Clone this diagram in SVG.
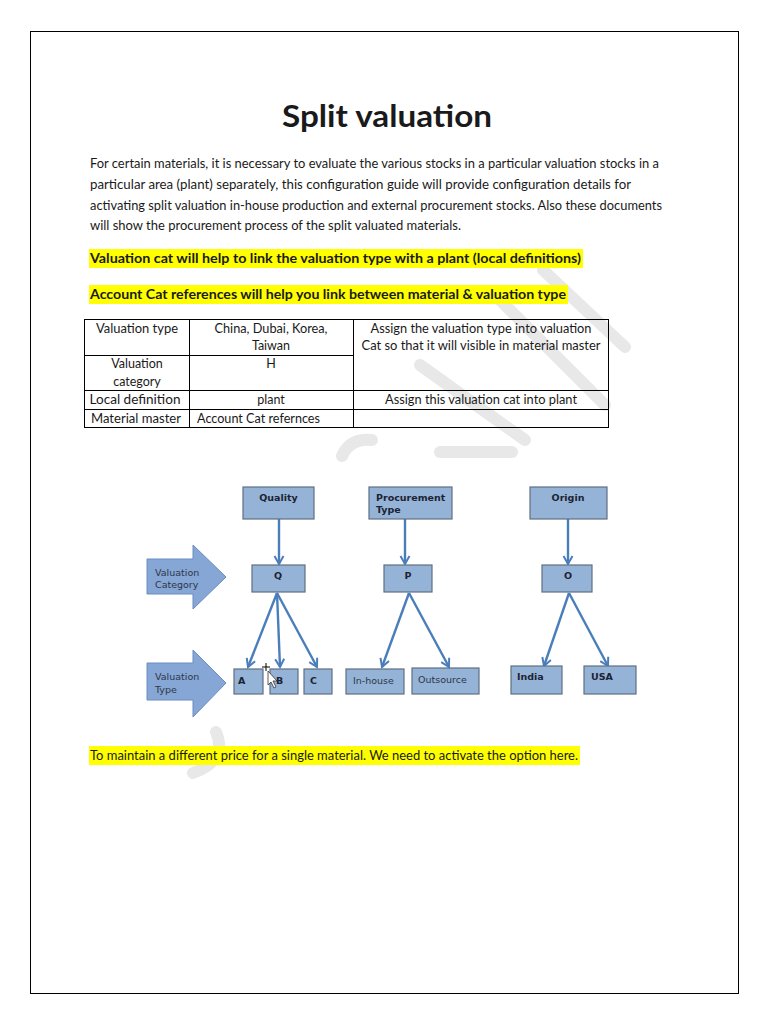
<svg xmlns="http://www.w3.org/2000/svg" width="768" height="1024" viewBox="0 0 768 1024">
<defs>
<style>
.doc{font-family:Lato,"Open Sans","Liberation Sans",sans-serif;fill:#1a1a1a}
.body{font-size:13px}
.bold{font-weight:bold}
.tbl{font-family:Lato,"Open Sans","Liberation Sans",sans-serif;font-size:12.5px;fill:#1a1a1a}
.hl{fill:#ffff00}
.grid{stroke:#000;stroke-width:1;fill:none}
.box{fill:#95b3d7;stroke:#5f6f82;stroke-width:1.2}
.barrow{fill:#86a6d6;stroke:#6a8cbf;stroke-width:1}
.lbl{font-family:"DejaVu Sans",Verdana,sans-serif;font-size:9.5px;font-weight:bold;fill:#1c2333}
.lbln{font-family:"DejaVu Sans",Verdana,sans-serif;font-size:9.5px;fill:#2c3648}
.conn{stroke:#4a7ebb;stroke-width:2.4;fill:none;marker-end:url(#arr)}
.wm{stroke:#e8e8e8;stroke-width:12;stroke-linecap:round;fill:none}
</style>
<marker id="arr" markerUnits="userSpaceOnUse" markerWidth="12" markerHeight="12" refX="9" refY="5" orient="auto" viewBox="0 0 12 10">
<path d="M1,0.5 L9,5 L1,9.5" fill="none" stroke="#4a7ebb" stroke-width="2"/>
</marker>
</defs>
<rect x="0" y="0" width="768" height="1024" fill="#ffffff"/>
<rect x="30.5" y="31.5" width="708" height="962" fill="none" stroke="#000" stroke-width="1"/>

<g id="watermark">
<path class="wm" d="M543,270 L625,347"/>
<path class="wm" d="M500,300 L605,405"/>
<path class="wm" d="M420,365 L525,440"/>
<path class="wm" d="M440,452 L512,452"/>
<path class="wm" d="M342,456 Q350,438 372,440"/>
<path class="wm" d="M216,732 Q228,760 193,773"/>
</g>

<g id="title">
<text class="doc bold" x="387" y="127" font-size="31" text-anchor="middle" textLength="210" lengthAdjust="spacingAndGlyphs">Split valuation</text>
</g>

<g id="intro" class="doc body">
<text x="90" y="168" textLength="569" lengthAdjust="spacingAndGlyphs">For certain materials, it is necessary to evaluate the various stocks in a particular valuation stocks in a</text>
<text x="90" y="189" textLength="541" lengthAdjust="spacingAndGlyphs">particular area (plant) separately, this configuration guide will provide configuration details for</text>
<text x="90" y="210" textLength="572" lengthAdjust="spacingAndGlyphs">activating split valuation in-house production and external procurement stocks. Also these documents</text>
<text x="90" y="230" textLength="371" lengthAdjust="spacingAndGlyphs">will show the procurement process of the split valuated materials.</text>
</g>

<g id="highlight1">
<rect class="hl" x="89" y="249" width="494" height="19"/>
<text class="doc body bold" x="90" y="263" textLength="491" lengthAdjust="spacingAndGlyphs">Valuation cat will help to link the valuation type with a plant (local definitions)</text>
</g>
<g id="highlight2">
<rect class="hl" x="89" y="285" width="479" height="19"/>
<text class="doc body bold" x="90" y="299" textLength="476" lengthAdjust="spacingAndGlyphs">Account Cat references will help you link between material &amp; valuation type</text>
</g>

<g id="table">
<rect class="grid" x="84.5" y="319.5" width="524" height="108"/>
<line class="grid" x1="189.5" y1="319.5" x2="189.5" y2="427.5"/>
<line class="grid" x1="353.5" y1="319.5" x2="353.5" y2="427.5"/>
<line class="grid" x1="84.5" y1="355.5" x2="353.5" y2="355.5"/>
<line class="grid" x1="84.5" y1="390.5" x2="608.5" y2="390.5"/>
<line class="grid" x1="84.5" y1="409.5" x2="608.5" y2="409.5"/>
<g class="tbl" text-anchor="middle" fill="#1a1a1a">
<text x="137" y="333" textLength="82" lengthAdjust="spacingAndGlyphs">Valuation type</text>
<text x="271" y="333" textLength="113" lengthAdjust="spacingAndGlyphs">China, Dubai, Korea,</text>
<text x="271" y="350">Taiwan</text>
<text x="481" y="333" textLength="221" lengthAdjust="spacingAndGlyphs">Assign the valuation type into valuation</text>
<text x="481" y="350" textLength="239" lengthAdjust="spacingAndGlyphs">Cat so that it will visible in material master</text>
<text x="137" y="368">Valuation</text>
<text x="137" y="386">category</text>
<text x="271" y="368" fill="#1a1a1a">H</text>
<text x="135" y="404" textLength="91" lengthAdjust="spacingAndGlyphs">Local definition</text>
<text x="271" y="404">plant</text>
<text x="481" y="404" textLength="192" lengthAdjust="spacingAndGlyphs">Assign this valuation cat into plant</text>
<text x="136" y="423" textLength="90" lengthAdjust="spacingAndGlyphs">Material master</text>
</g>
<text class="tbl" x="197" y="423" textLength="123" lengthAdjust="spacingAndGlyphs">Account Cat refernces</text>
</g>

<g id="connectors">
<line class="conn" x1="279" y1="519" x2="279" y2="564"/>
<line class="conn" x1="277" y1="593" x2="248" y2="667"/>
<line class="conn" x1="277" y1="593" x2="280" y2="667"/>
<line class="conn" x1="277" y1="593" x2="317" y2="667"/>
<line class="conn" x1="405" y1="519" x2="405" y2="564"/>
<line class="conn" x1="409" y1="593" x2="382" y2="667"/>
<line class="conn" x1="409" y1="593" x2="449" y2="667"/>
<line class="conn" x1="568" y1="519" x2="568" y2="564"/>
<line class="conn" x1="569" y1="593" x2="544" y2="666"/>
<line class="conn" x1="569" y1="593" x2="608" y2="666"/>
</g>

<g id="arrow-valuation-category">
<polygon class="barrow" points="147,559 193,559 193,545 226,577 193,609 193,594 147,594"/>
<text class="lbln" x="155" y="576">Valuation</text>
<text class="lbln" x="155" y="588">Category</text>
</g>
<g id="arrow-valuation-type">
<polygon class="barrow" points="147,663 193,663 193,650 226,683 193,717 193,700 147,700"/>
<text class="lbln" x="155" y="680">Valuation</text>
<text class="lbln" x="155" y="693">Type</text>
</g>

<g id="node-quality">
<rect class="box" x="243" y="487" width="71" height="32"/>
<text class="lbl" x="278.5" y="501" text-anchor="middle">Quality</text>
</g>
<g id="node-procurement-type">
<rect class="box" x="369" y="487" width="83" height="32"/>
<text class="lbl" x="376" y="501">Procurement</text>
<text class="lbl" x="376" y="513">Type</text>
</g>
<g id="node-origin">
<rect class="box" x="530" y="487" width="77" height="32"/>
<text class="lbl" x="568" y="501" text-anchor="middle">Origin</text>
</g>
<g id="node-q">
<rect class="box" x="252" y="565" width="53" height="27"/>
<text class="lbl" x="278" y="579" text-anchor="middle">Q</text>
</g>
<g id="node-p">
<rect class="box" x="384" y="565" width="48" height="27"/>
<text class="lbl" x="408" y="579" text-anchor="middle">P</text>
</g>
<g id="node-o">
<rect class="box" x="542" y="565" width="50" height="27"/>
<text class="lbl" x="568" y="579" text-anchor="middle">O</text>
</g>
<g id="node-a">
<rect class="box" x="234" y="669" width="29" height="25"/>
<text class="lbl" x="238" y="684">A</text>
</g>
<g id="node-b">
<rect class="box" x="270" y="669" width="28" height="25"/>
<text class="lbl" x="276" y="684">B</text>
</g>
<g id="node-c">
<rect class="box" x="304" y="669" width="28" height="25"/>
<text class="lbl" x="310" y="684">C</text>
</g>
<g id="node-inhouse">
<rect class="box" x="346" y="669" width="58" height="25"/>
<text class="lbln" x="353" y="684">In-house</text>
</g>
<g id="node-outsource">
<rect class="box" x="412" y="668" width="67" height="26"/>
<text class="lbln" x="418" y="683">Outsource</text>
</g>
<g id="node-india">
<rect class="box" x="511" y="666" width="51" height="28"/>
<text class="lbl" x="517" y="680">India</text>
</g>
<g id="node-usa">
<rect class="box" x="584" y="666" width="52" height="28"/>
<text class="lbl" x="591" y="680">USA</text>
</g>

<g id="cursor">
<path d="M262,667 L270,667 M266,663 L266,671" stroke="#000" stroke-width="1"/>
<polygon points="268,671 268,685 271,682 274,688 276,687 273,681 277,681" fill="#fff" stroke="#333" stroke-width="0.8"/>
</g>

<g id="footer-note">
<rect class="hl" x="89" y="746" width="491" height="19"/>
<text class="doc body" x="90" y="760" textLength="488" lengthAdjust="spacingAndGlyphs">To maintain a different price for a single material. We need to activate the option here.</text>
</g>
</svg>
